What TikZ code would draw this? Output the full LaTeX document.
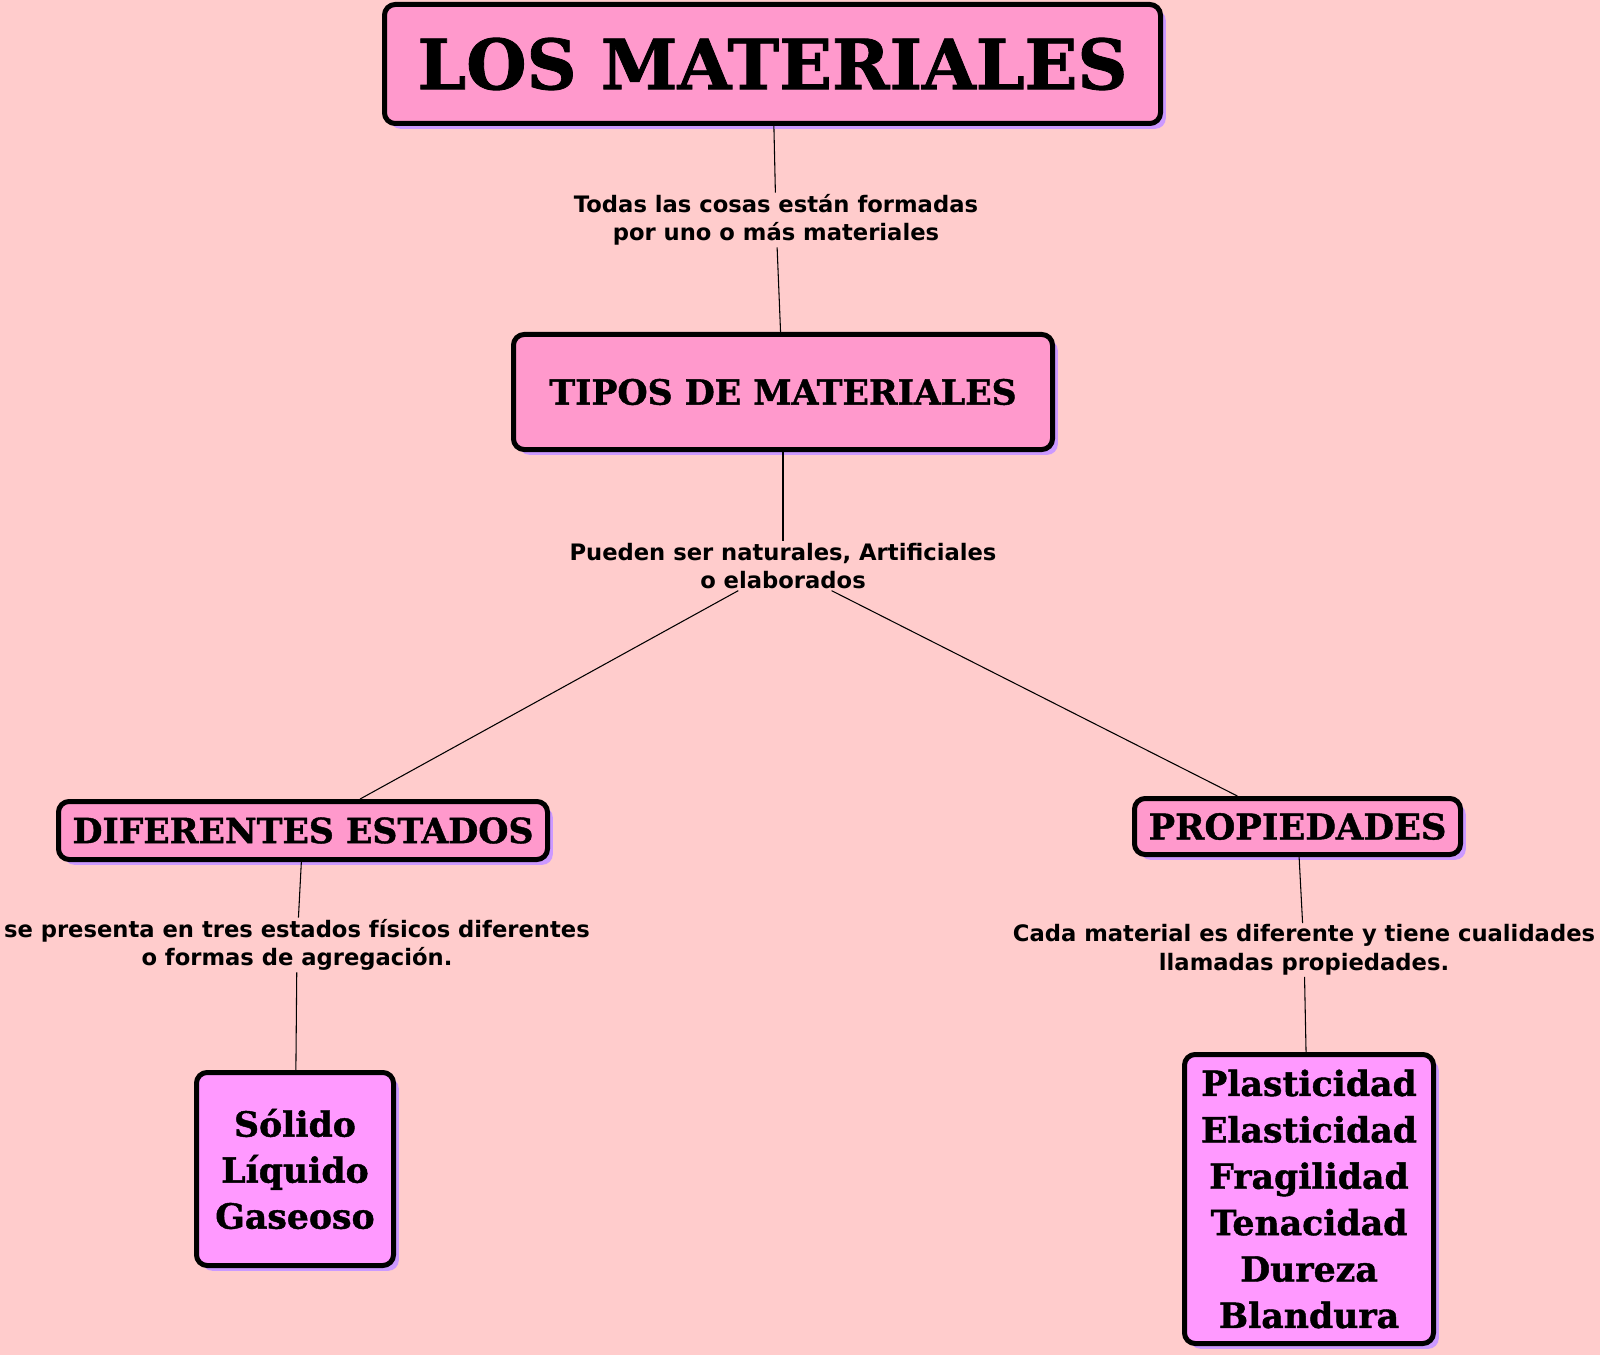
\documentclass[tikz,border=0pt]{standalone}
\usepackage{fontspec}
\usepackage{tikz}
\usetikzlibrary{shadows}
\newfontfamily\slabfont{DejaVu Serif}[BoldFont={DejaVu Serif Bold}, BoldFeatures={FakeBold=1.2}]
\newfontfamily\linkfont{DejaVu Sans}
\definecolor{mapbg}{RGB}{255,204,204}
\definecolor{boxpink}{RGB}{255,153,204}
\definecolor{leafpink}{RGB}{255,153,255}
\definecolor{shadowlila}{RGB}{204,153,255}

\begin{document}
\begin{tikzpicture}[x=0.75pt, y=-0.75pt,
          concept/.style={draw=black, line width=3.75pt, rounded corners=8pt,
                          fill=boxpink, text=black, align=center, inner sep=0pt,
                          drop shadow={shadow xshift=4pt, shadow yshift=-4pt,
                                       fill=shadowlila, opacity=1}},
          leaf/.style={concept, fill=leafpink},
          link/.style={font=\linkfont\bfseries\fontsize{17}{21.4}\selectfont,
                       align=center, inner sep=1pt},
          conn/.style={draw=black, line width=0.8pt}
        ]
          \fill[mapbg] (0,0) rectangle (1600,1355);
          \useasboundingbox (0,0) rectangle (1600,1355);
          % concepts
          \node[concept, minimum width=582pt, minimum height=89.25pt,
                font=\slabfont\bfseries\fontsize{52}{60}\selectfont]
                (title) at (772.5,64) {LOS MATERIALES};
          \node[concept, minimum width=404.25pt, minimum height=86.25pt,
                font=\slabfont\bfseries\fontsize{26}{32}\selectfont]
                (tipos) at (783,392) {TIPOS DE MATERIALES};
          \node[concept, minimum width=366.75pt, minimum height=43.5pt,
                font=\slabfont\bfseries\fontsize{26}{30}\selectfont]
                (estados) at (303,830.5) {DIFERENTES ESTADOS};
          \node[concept, minimum width=244.5pt, minimum height=42pt,
                font=\slabfont\bfseries\fontsize{26.5}{30}\selectfont]
                (props) at (1297.5,826.5) {PROPIEDADES};
          \node[leaf, minimum width=147.75pt, minimum height=144.75pt,
                font=\slabfont\bfseries\fontsize{26}{34.5}\selectfont]
                (fases) at (295,1169) {Sólido\\Líquido\\Gaseoso};
          \node[leaf, minimum width=186.75pt, minimum height=216.75pt,
                font=\slabfont\bfseries\fontsize{26}{34.8}\selectfont]
                (lista) at (1309,1199)
                {Plasticidad\\Elasticidad\\Fragilidad\\Tenacidad\\Dureza\\Blandura};
          % linking phrases
          \node[link] (l1) at (776,220)
                {Todas las cosas están formadas\\por uno o más materiales};
          \node[link] (l2) at (783,566)
                {Pueden ser naturales, Artificiales\\o elaborados};
          \node[link] (l3) at (297,945)
                {se presenta en tres estados físicos diferentes\\o formas de agregación.};
          \node[link] (l4) at (1304,950)
                {Cada material es diferente y tiene cualidades\\llamadas propiedades.};
          % connectors
          \draw[conn] (title) -- (l1);
          \draw[conn] (l1) -- (tipos);
          \draw[conn] (tipos) -- (l2);
          \draw[conn] (l2) -- (estados);
          \draw[conn] (l2) -- (props);
          \draw[conn] (estados) -- (l3);
          \draw[conn] (l3) -- (fases);
          \draw[conn] (props) -- (l4);
          \draw[conn] (l4) -- (lista);
        \end{tikzpicture}
\end{document}
